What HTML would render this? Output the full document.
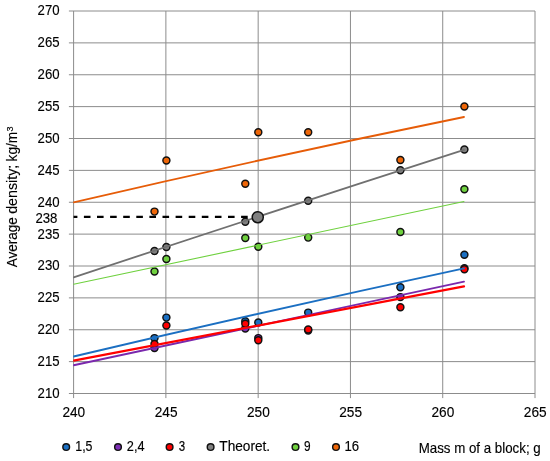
<!DOCTYPE html>
<html><head><meta charset="utf-8"><title>Chart</title>
<style>html,body{margin:0;padding:0;background:#fff}text{stroke:#000;stroke-width:.15px}body{width:550px;height:461px;overflow:hidden}</style></head>
<body>
<svg width="550" height="461" viewBox="0 0 550 461" style="display:block;font-family:'Liberation Sans',sans-serif">
<rect width="550" height="461" fill="#fff"/>
<clipPath id="pc"><rect x="73.2" y="0" width="470" height="400"/></clipPath>
<path d="M68.9 11.00H535.0M68.9 42.88H535.0M68.9 74.75H535.0M68.9 106.62H535.0M68.9 138.50H535.0M68.9 170.38H535.0M68.9 202.25H535.0M68.9 234.12H535.0M68.9 266.00H535.0M68.9 297.88H535.0M68.9 329.75H535.0M68.9 361.62H535.0M68.9 393.50H535.0M73.60 11.0V398.1M165.88 11.0V398.1M258.16 11.0V398.1M350.44 11.0V398.1M442.72 11.0V398.1M535.00 11.0V398.1" stroke="#8c8c8c" stroke-width="1" fill="none"/>
<text x="37.6" y="15.4" font-size="14.8" fill="#000" textLength="22" lengthAdjust="spacingAndGlyphs">270</text>
<text x="37.6" y="47.3" font-size="14.8" fill="#000" textLength="22" lengthAdjust="spacingAndGlyphs">265</text>
<text x="37.6" y="79.2" font-size="14.8" fill="#000" textLength="22" lengthAdjust="spacingAndGlyphs">260</text>
<text x="37.6" y="111.0" font-size="14.8" fill="#000" textLength="22" lengthAdjust="spacingAndGlyphs">255</text>
<text x="37.6" y="142.9" font-size="14.8" fill="#000" textLength="22" lengthAdjust="spacingAndGlyphs">250</text>
<text x="37.6" y="174.8" font-size="14.8" fill="#000" textLength="22" lengthAdjust="spacingAndGlyphs">245</text>
<text x="37.6" y="206.7" font-size="14.8" fill="#000" textLength="22" lengthAdjust="spacingAndGlyphs">240</text>
<text x="37.6" y="238.5" font-size="14.8" fill="#000" textLength="22" lengthAdjust="spacingAndGlyphs">235</text>
<text x="37.6" y="270.4" font-size="14.8" fill="#000" textLength="22" lengthAdjust="spacingAndGlyphs">230</text>
<text x="37.6" y="302.3" font-size="14.8" fill="#000" textLength="22" lengthAdjust="spacingAndGlyphs">225</text>
<text x="37.6" y="334.1" font-size="14.8" fill="#000" textLength="22" lengthAdjust="spacingAndGlyphs">220</text>
<text x="37.6" y="366.0" font-size="14.8" fill="#000" textLength="22" lengthAdjust="spacingAndGlyphs">215</text>
<text x="37.6" y="397.9" font-size="14.8" fill="#000" textLength="22" lengthAdjust="spacingAndGlyphs">210</text>
<text x="35.4" y="222.8" font-size="14.8" fill="#000" textLength="22" lengthAdjust="spacingAndGlyphs">238</text>
<text x="62.4" y="417.4" font-size="14.8" fill="#000" textLength="22.8" lengthAdjust="spacingAndGlyphs">240</text>
<text x="154.7" y="417.4" font-size="14.8" fill="#000" textLength="22.8" lengthAdjust="spacingAndGlyphs">245</text>
<text x="247.0" y="417.4" font-size="14.8" fill="#000" textLength="22.8" lengthAdjust="spacingAndGlyphs">250</text>
<text x="339.2" y="417.4" font-size="14.8" fill="#000" textLength="22.8" lengthAdjust="spacingAndGlyphs">255</text>
<text x="431.5" y="417.4" font-size="14.8" fill="#000" textLength="22.8" lengthAdjust="spacingAndGlyphs">260</text>
<text x="523.8" y="417.4" font-size="14.8" fill="#000" textLength="22.8" lengthAdjust="spacingAndGlyphs">265</text>
<g transform="translate(17.4 267.2) rotate(-90)" font-size="14.8" fill="#000">
<text x="0" y="0" textLength="50.1" lengthAdjust="spacingAndGlyphs">Average</text>
<text x="53.4" y="0" textLength="49.1" lengthAdjust="spacingAndGlyphs">density;</text>
<text x="105.8" y="0" textLength="29.6" lengthAdjust="spacingAndGlyphs">kg/m</text>
<text x="135.6" y="-4.6" font-size="9" textLength="5" lengthAdjust="spacingAndGlyphs">3</text>
</g>
<text x="418.7" y="452.7" font-size="14.8" fill="#000" textLength="122" lengthAdjust="spacingAndGlyphs">Mass m of a block; g</text>
<g fill="#1b6fc2" stroke="#111" stroke-width="1.45">
<circle cx="166.4" cy="317.6" r="3.5"/>
<circle cx="154.5" cy="338.1" r="3.5"/>
<circle cx="245.3" cy="321.2" r="3.5"/>
<circle cx="258.3" cy="322.5" r="3.5"/>
<circle cx="308.2" cy="312.6" r="3.5"/>
<circle cx="400.4" cy="287.2" r="3.5"/>
<circle cx="464.4" cy="254.7" r="3.5"/>
</g>
<g fill="#7d2fb5" stroke="#111" stroke-width="1.45">
<circle cx="154.5" cy="348.0" r="3.5"/>
<circle cx="245.3" cy="328.5" r="3.5"/>
<circle cx="258.3" cy="338.1" r="3.5"/>
<circle cx="308.2" cy="330.6" r="3.5"/>
<circle cx="400.4" cy="297.1" r="3.5"/>
<circle cx="464.4" cy="268.3" r="3.5"/>
</g>
<g fill="#ff0000" stroke="#111" stroke-width="1.45">
<circle cx="166.4" cy="325.4" r="3.5"/>
<circle cx="154.5" cy="343.9" r="3.5"/>
<circle cx="245.3" cy="323.8" r="3.5"/>
<circle cx="258.3" cy="340.2" r="3.5"/>
<circle cx="308.2" cy="329.5" r="3.5"/>
<circle cx="400.4" cy="307.3" r="3.5"/>
<circle cx="464.4" cy="269.3" r="3.5"/>
</g>
<g fill="#808080" stroke="#111" stroke-width="1.45">
<circle cx="154.5" cy="250.9" r="3.5"/>
<circle cx="166.4" cy="247.0" r="3.5"/>
<circle cx="245.3" cy="221.7" r="3.5"/>
<circle cx="308.2" cy="200.8" r="3.5"/>
<circle cx="400.4" cy="170.3" r="3.5"/>
<circle cx="464.4" cy="149.5" r="3.5"/>
</g>
<g fill="#6fd13f" stroke="#111" stroke-width="1.45">
<circle cx="154.5" cy="271.5" r="3.5"/>
<circle cx="166.4" cy="259.0" r="3.5"/>
<circle cx="245.3" cy="237.9" r="3.5"/>
<circle cx="258.3" cy="246.7" r="3.5"/>
<circle cx="308.2" cy="237.6" r="3.5"/>
<circle cx="400.4" cy="232.0" r="3.5"/>
<circle cx="464.4" cy="189.3" r="3.5"/>
</g>
<g fill="#ee6608" stroke="#111" stroke-width="1.45">
<circle cx="154.5" cy="211.6" r="3.5"/>
<circle cx="166.4" cy="160.4" r="3.5"/>
<circle cx="245.3" cy="183.7" r="3.5"/>
<circle cx="258.3" cy="132.2" r="3.5"/>
<circle cx="308.2" cy="132.2" r="3.5"/>
<circle cx="400.4" cy="159.9" r="3.5"/>
<circle cx="464.4" cy="106.5" r="3.5"/>
</g>
<path d="M73.6 356.5Q268.8 310.45 464.0 268.4" stroke="#1b6fc2" stroke-width="1.9" stroke-linecap="round" fill="none" clip-path="url(#pc)"/>
<path d="M73.6 365.3Q268.8 322.65 464.0 281.6" stroke="#7a28ad" stroke-width="1.9" stroke-linecap="round" fill="none" clip-path="url(#pc)"/>
<path d="M73.6 360.6Q268.8 322.65 464.0 286.3" stroke="#ff0000" stroke-width="2.2" stroke-linecap="round" fill="none" clip-path="url(#pc)"/>
<path d="M73.6 277.4Q268.8 212.65 464.0 149.9" stroke="#707070" stroke-width="1.8" stroke-linecap="round" fill="none" clip-path="url(#pc)"/>
<path d="M73.6 284.3Q268.8 242.30 464.0 201.5" stroke="#6fd13f" stroke-width="1.1" stroke-linecap="round" fill="none" clip-path="url(#pc)"/>
<path d="M73.6 202.3Q268.8 156.85 464.0 117.0" stroke="#e65c08" stroke-width="1.8" stroke-linecap="round" fill="none" clip-path="url(#pc)"/>
<path d="M247.7 216.8H73.6" stroke="#000" stroke-width="2.2" stroke-dasharray="6.6 6.5" fill="none"/>
<circle cx="257.75" cy="217.2" r="5.55" fill="#808080" stroke="#111" stroke-width="1.5"/>
<circle cx="66.2" cy="447" r="3.35" fill="#1b6fc2" stroke="#111" stroke-width="1.45"/>
<text x="75.3" y="450.9" font-size="14" fill="#000" textLength="17.2" lengthAdjust="spacingAndGlyphs">1,5</text>
<circle cx="118.0" cy="447" r="3.35" fill="#7d2fb5" stroke="#111" stroke-width="1.45"/>
<text x="126.8" y="450.9" font-size="14" fill="#000" textLength="17.7" lengthAdjust="spacingAndGlyphs">2,4</text>
<circle cx="169.6" cy="447" r="3.35" fill="#ff0000" stroke="#111" stroke-width="1.45"/>
<text x="178.7" y="450.9" font-size="14" fill="#000" textLength="6.4" lengthAdjust="spacingAndGlyphs">3</text>
<circle cx="210.6" cy="447" r="3.35" fill="#808080" stroke="#111" stroke-width="1.45"/>
<text x="219.3" y="450.9" font-size="14" fill="#000" textLength="50.8" lengthAdjust="spacingAndGlyphs">Theoret.</text>
<circle cx="295.5" cy="447" r="3.35" fill="#6fd13f" stroke="#111" stroke-width="1.45"/>
<text x="304.0" y="450.9" font-size="14" fill="#000" textLength="6.6" lengthAdjust="spacingAndGlyphs">9</text>
<circle cx="336.0" cy="447" r="3.35" fill="#ee6608" stroke="#111" stroke-width="1.45"/>
<text x="344.5" y="450.9" font-size="14" fill="#000" textLength="14.6" lengthAdjust="spacingAndGlyphs">16</text>
</svg>
</body></html>
